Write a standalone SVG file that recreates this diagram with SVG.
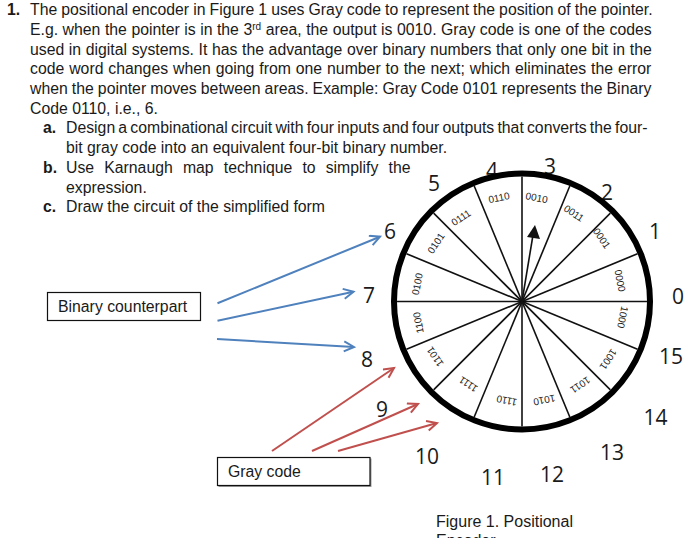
<svg xmlns="http://www.w3.org/2000/svg" width="690" height="554" viewBox="0 0 690 554">
<style>
.t{font:15.8px "Liberation Sans",Arial,sans-serif;fill:#1a1a1a}
.b{font-weight:700}
.n{font:21px "Open Sans",sans-serif;fill:#1a1a1a;text-anchor:middle}
.c{font:10px "Liberation Sans",Arial,sans-serif;fill:#222;text-anchor:middle}
.s{stroke:#111;stroke-width:1.6}
.bl{stroke:#4f81bd;stroke-width:2;fill:none}
.rd{stroke:#c0504d;stroke-width:2;fill:none}
.box{fill:#fff;stroke:#111;stroke-width:1.2}
</style>
<defs>
<marker id="ab" markerUnits="userSpaceOnUse" markerWidth="14" markerHeight="14" refX="11" refY="6" orient="auto"><path d="M1 1L11 6L1 11" fill="none" stroke="#4f81bd" stroke-width="2"/></marker>
<marker id="ar" markerUnits="userSpaceOnUse" markerWidth="14" markerHeight="14" refX="11" refY="6" orient="auto"><path d="M1 1L11 6L1 11" fill="none" stroke="#c0504d" stroke-width="2"/></marker>
<clipPath id="cut"><rect x="430" y="530" width="160" height="8"/></clipPath>
</defs>
<rect width="690" height="554" fill="#fff"/>
<g id="text">
<text class="t b" x="7" y="15">1.</text>
<text class="t" x="30" y="15" word-spacing="-0.35">The positional encoder in Figure 1 uses Gray code to represent the position of the pointer.</text>
<text class="t" x="30" y="35" word-spacing="0.13">E.g. when the pointer is in the 3<tspan font-size="10" dy="-5">rd</tspan><tspan dy="5"> area, the output is 0010. Gray code is one of the codes</tspan></text>
<text class="t" x="30" y="55" word-spacing="0.22">used in digital systems. It has the advantage over binary numbers that only one bit in the</text>
<text class="t" x="30" y="74" word-spacing="0.54">code word changes when going from one number to the next; which eliminates the error</text>
<text class="t" x="30" y="94" word-spacing="-0.32">when the pointer moves between areas. Example: Gray Code 0101 represents the Binary</text>
<text class="t" x="30" y="114">Code 0110, i.e., 6.</text>
<text class="t b" x="43" y="133">a.</text>
<text class="t" x="66" y="133" word-spacing="-1.2">Design a combinational circuit with four inputs and four outputs that converts the four-</text>
<text class="t" x="66" y="153">bit gray code into an equivalent four-bit binary number.</text>
<text class="t b" x="43" y="173">b.</text>
<text class="t" x="66" y="173" word-spacing="5.75">Use Karnaugh map technique to simplify the</text>
<text class="t" x="66" y="193">expression.</text>
<text class="t b" x="43" y="212">c.</text>
<text class="t" x="66" y="212">Draw the circuit of the simplified form</text>
<text class="t" x="436" y="527" style="font-size:16px">Figure 1. Positional</text>
<text class="t" x="436" y="546" style="font-size:16px" clip-path="url(#cut)">Encoder</text>
</g>
<g id="numbers">
<text class="n" x="550" y="174">3</text>
<text class="n" x="492" y="178">4</text>
<text class="n" x="434" y="191">5</text>
<text class="n" x="607" y="200">2</text>
<text class="n" x="655" y="239">1</text>
<text class="n" x="678" y="304">0</text>
<text class="n" x="671" y="364">15</text>
<text class="n" x="655.5" y="425">14</text>
<text class="n" x="612" y="460">13</text>
<text class="n" x="552" y="482">12</text>
<text class="n" x="493" y="485">11</text>
<text class="n" x="427" y="464">10</text>
<text class="n" x="382" y="417">9</text>
<text class="n" x="367" y="367">8</text>
<text class="n" x="369" y="303">7</text>
<text class="n" x="390" y="239">6</text>
</g>
<g id="wheel">
<circle cx="522" cy="301.5" r="128" fill="#fff" stroke="#000" stroke-width="6"/>
<g class="s">
<line x1="397" y1="301.5" x2="647" y2="301.5"/>
<line x1="522" y1="176.5" x2="522" y2="426.5"/>
<line x1="406.5" y1="253.7" x2="637.5" y2="349.3"/>
<line x1="406.5" y1="349.3" x2="637.5" y2="253.7"/>
<line x1="433.6" y1="213.1" x2="610.4" y2="389.9"/>
<line x1="433.6" y1="389.9" x2="610.4" y2="213.1"/>
<line x1="474.2" y1="186" x2="569.8" y2="417"/>
<line x1="474.2" y1="417" x2="569.8" y2="186"/>
</g>
<g>
<text class="c" transform="translate(536.7 197.7) rotate(11.25)" y="3.5">0010</text>
<text class="c" transform="translate(574 213.3) rotate(33.75)" y="3.5">0011</text>
<text class="c" transform="translate(601.7 238.3) rotate(56.25)" y="3.5">0001</text>
<text class="c" transform="translate(620 280.7) rotate(78.75)" y="3.5">0000</text>
<text class="c" transform="translate(622.7 317.3) rotate(101.25)" y="3.5">1000</text>
<text class="c" transform="translate(608.3 359.3) rotate(123.75)" y="3.5">1001</text>
<text class="c" transform="translate(580.3 385) rotate(146.25)" y="3.5">1011</text>
<text class="c" transform="translate(544.3 400) rotate(168.75)" y="3.5">1010</text>
<text class="c" transform="translate(506.7 400.7) rotate(191.25)" y="3.5">1110</text>
<text class="c" transform="translate(468.3 384.3) rotate(213.75)" y="3.5">1111</text>
<text class="c" transform="translate(435 356.7) rotate(236.25)" y="3.5">1101</text>
<text class="c" transform="translate(418.3 322.7) rotate(258.75)" y="3.5">1100</text>
<text class="c" transform="translate(417.3 284) rotate(-78.75)" y="3.5">0100</text>
<text class="c" transform="translate(436 243.3) rotate(-56.25)" y="3.5">0101</text>
<text class="c" transform="translate(461 217.7) rotate(-33.75)" y="3.5">0111</text>
<text class="c" transform="translate(499 197.7) rotate(-11.25)" y="3.5">0110</text>
</g>
<line x1="522" y1="301.5" x2="533" y2="235" stroke="#111" stroke-width="1.6"/>
<path d="M535 225L527 237L540 239Z" fill="#111"/>
</g>
<g id="connectors">
<line class="bl" x1="217.5" y1="303.3" x2="380" y2="236.7" marker-end="url(#ab)"/>
<line class="bl" x1="217.5" y1="320.7" x2="353.5" y2="291.7" marker-end="url(#ab)"/>
<line class="bl" x1="217" y1="339" x2="354" y2="347" marker-end="url(#ab)"/>
<line class="rd" x1="272" y1="451" x2="394" y2="368" marker-end="url(#ar)"/>
<line class="rd" x1="312" y1="451" x2="418" y2="404" marker-end="url(#ar)"/>
<line class="rd" x1="338" y1="451" x2="437" y2="423" marker-end="url(#ar)"/>
</g>
<g id="binary-counterpart">
<rect class="box" x="47.5" y="292.5" width="153" height="28"/>
<text class="t" x="58" y="312">Binary counterpart</text>
</g>
<g id="gray-code">
<rect x="218.5" y="458.5" width="153" height="28.5" fill="#999"/>
<rect class="box" x="217.5" y="457.5" width="152.5" height="28"/>
<text class="t" x="228" y="477">Gray code</text>
</g>
</svg>
